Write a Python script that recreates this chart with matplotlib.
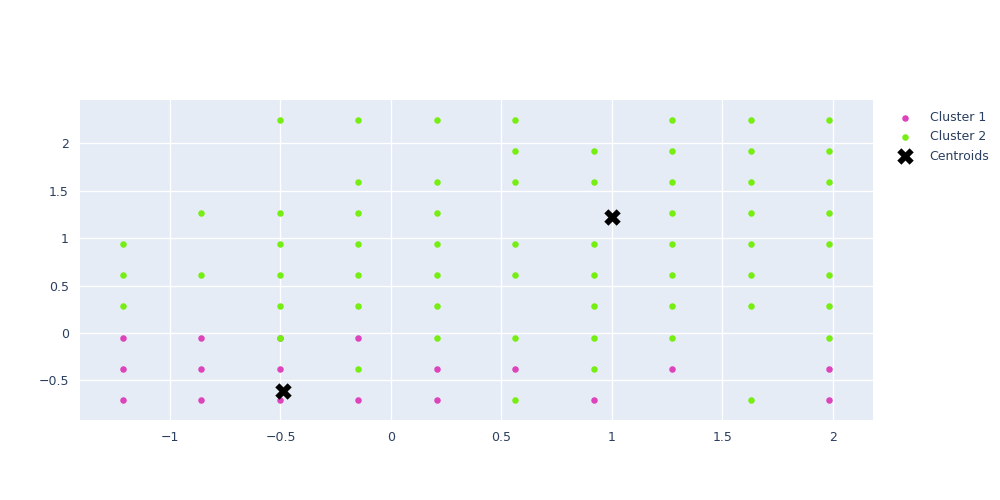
import matplotlib
matplotlib.use("Agg")
import matplotlib.pyplot as plt

xs = [-1.213, -0.860, -0.502, -0.149, 0.208, 0.561, 0.919, 1.271, 1.629, 1.982]
ys = [2.242, 1.916, 1.589, 1.263, 0.937, 0.611, 0.284, -0.053, -0.379, -0.705]
# indices into ys per column
green_idx = [[4,5,6],[3,5],[0,3,4,5,6,7],[0,2,3,4,5,6,8],[0,2,3,4,5,6,7],
             [0,1,2,4,5,7,9],[1,2,4,5,6,7,8],[0,1,2,3,4,5,6,7],[0,1,2,3,4,5,6,9],[0,1,2,3,4,5,6,7]]
pink_idx = [[7,8,9],[7,8,9],[7,8,9],[7,9],[8,9],[8],[9],[8],[],[8,9]]
cent_x = [-0.489, 1.0]
cent_y = [-0.611, 1.221]

c1x = [xs[i] for i, l in enumerate(pink_idx) for _ in l]
c1y = [ys[j] for l in pink_idx for j in l]
c2x = [xs[i] for i, l in enumerate(green_idx) for _ in l]
c2y = [ys[j] for l in green_idx for j in l]

fig = plt.figure(figsize=(10, 5), dpi=100)
ax = fig.add_axes([0.08, 0.16, 0.793, 0.64])
ax.set_facecolor('#E5ECF6')
ax.scatter(c1x, c1y, s=22, color='#DD44BB', label='Cluster 1', zorder=3, linewidths=0)
ax.scatter(c2x, c2y, s=22, color='#77EE11', label='Cluster 2', zorder=3, linewidths=0)
ax.scatter(cent_x, cent_y, s=140, color='black', marker='X', label='Centroids', zorder=4, linewidths=0)
ax.set_xlim(-1.407, 2.181)
ax.set_ylim(-0.916, 2.453)
ax.set_xticks([-1, -0.5, 0, 0.5, 1, 1.5, 2])
ax.set_xticklabels(['−1', '−0.5', '0', '0.5', '1', '1.5', '2'])
ax.set_yticks([-0.5, 0, 0.5, 1, 1.5, 2])
ax.set_yticklabels(['−0.5', '0', '0.5', '1', '1.5', '2'])
ax.grid(color='white', linewidth=1, zorder=0)
ax.set_axisbelow(True)
for s in ax.spines.values():
    s.set_visible(False)
ax.tick_params(length=0, labelsize=9, colors='#2a3f5f', pad=8)
ax.legend(loc='upper left', bbox_to_anchor=(1.01, 1.0), frameon=False, fontsize=9,
          labelcolor='#2a3f5f', handletextpad=1.0)
fig.savefig('out.png')
